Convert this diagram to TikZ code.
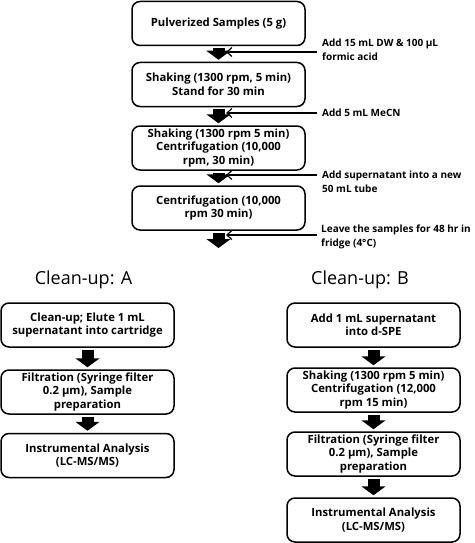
\documentclass[tikz,border=0pt]{standalone}
\usepackage{fontspec}
\setmainfont{Open Sans}
\usetikzlibrary{arrows.meta}

\begin{document}
\begin{tikzpicture}[x=1pt,y=-1pt,
	schritt/.style={draw,line width=1.5pt,rounded corners=8pt,
		minimum width=173pt,minimum height=44pt,inner sep=1pt,align=center,
		font=\bfseries\fontsize{11.3}{13.5}\selectfont},
	block/.style={line width=12pt,shorten <=2pt,shorten >=2pt,
		-{Triangle[width=24pt,length=9pt]}},
	zufuhr/.style={line width=1.2pt,-{Straight Barb[length=5pt,width=9pt]}},
	hinweis/.style={anchor=west,align=left,inner sep=0pt,
		font=\bfseries\fontsize{10}{14}\selectfont},
	titel/.style={font=\fontsize{18}{20}\selectfont}]
\useasboundingbox (0,0) rectangle (474,543);

% Extraktion
\node[schritt] (p1) at (218.5,23.5) {Pulverized Samples (5 g)};
\node[schritt] (p2) at (218.5,84.5) {Shaking (1300 rpm, 5 min)\\Stand for 30 min};
\node[schritt] (p3) at (218.5,148) {Shaking (1300 rpm 5 min)\\Centrifugation (10,000\\rpm, 30 min)};
\node[schritt] (p4) at (218.5,208) {Centrifugation (10,000\\rpm 30 min)};
\coordinate (p5) at (218.5,250);

\draw[block] (p1) -- (p2);
\draw[block] (p2) -- (p3);
\draw[block] (p3) -- (p4);
\draw[block] (p4) -- (p5);

\node[hinweis] (h1) at (322,50) {Add 15 mL DW \& 100 µL\\formic acid};
\node[hinweis] (h2) at (322,113) {Add 5 mL MeCN};
\node[hinweis] (h3) at (322,181.5) {Add supernatant into a new\\50 mL tube};
\node[hinweis] (h4) at (321,236.5) {Leave the samples for 48 hr in\\fridge (4°C)};

\coordinate (e1) at (317,52);
\coordinate (e2) at (317,113);
\coordinate (e3) at (317,175);
\coordinate (e4) at (317,235);
\foreach \i in {1,...,4}{
	\draw[zufuhr] (e\i) -- (226,0 |- e\i);
}

% Clean-up A
\node[titel] (ta) at (83.5,280) {Clean-up: A};
\node[schritt] (a1) at (87.5,325) {Clean-up; Elute 1 mL\\supernatant into cartridge};
\node[schritt] (a2) at (87.5,392) {Filtration (Syringe filter\\0.2 µm), Sample\\preparation};
\node[schritt] (a3) at (87.5,455.5) {Instrumental Analysis\\(LC-MS/MS)};

\draw[block] (a1) -- (a2);
\draw[block] (a2) -- (a3);

% Clean-up B
\node[titel] (tb) at (360,280) {Clean-up: B};
\node[schritt] (b1) at (373.5,325) {Add 1 mL supernatant\\into d-SPE};
\node[schritt] (b2) at (373.5,390) {Shaking (1300 rpm 5 min)\\Centrifugation (12,000\\rpm 15 min)};
\node[schritt] (b3) at (373.5,454) {Filtration (Syringe filter\\0.2 µm), Sample\\preparation};
\node[schritt] (b4) at (373.5,520) {Instrumental Analysis\\(LC-MS/MS)};

\draw[block] (b1) -- (b2);
\draw[block] (b2) -- (b3);
\draw[block] (b3) -- (b4);

\end{tikzpicture}
\end{document}
